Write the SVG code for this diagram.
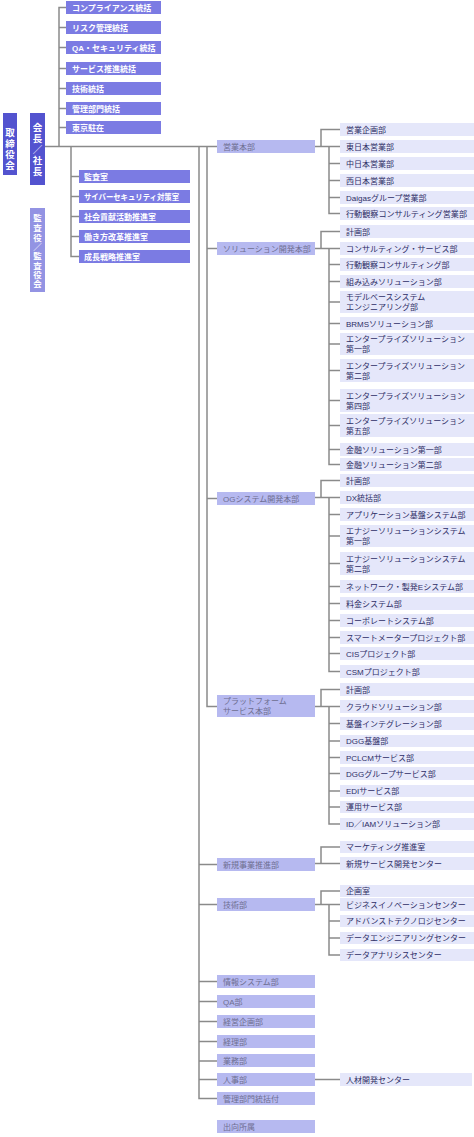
<svg xmlns="http://www.w3.org/2000/svg" width="474" height="1137" viewBox="0 0 474 1137">
<style>
text{font-family:"Liberation Sans","Noto Sans CJK JP",sans-serif;font-size:8px}
.dk{fill:#5353cf}
.au{fill:#9393e3}
.tp{fill:#7b7be3}
.tt{fill:#fff;font-weight:bold}
.vt{fill:#fff;font-weight:bold;font-size:9.5px;text-anchor:middle}
.mn{fill:#b6b9f0}
.mt{fill:#6e6e90}
.sb{fill:#e5e7fa}
.st{fill:#2e2e66}
.ln{stroke:#8a8a8a;stroke-width:1.5;fill:none}
</style>
<rect width="474" height="1137" fill="#fff"/>
<g id="connectors">
<path class="ln" d="M44,146.5H217 M59,146.5V7.5H66 M59,27.5H66 M59,47.5H66 M59,68.5H66 M59,88.5H66 M59,108.5H66 M59,127.5H66"/>
<path class="ln" d="M71,146.5V256.5H79 M71,176.5H79 M71,196.5H79 M71,216.5H79 M71,236.5H79"/>
<path class="ln" d="M207,146.5V706.5H217 M207,248.5H217 M207,498.5H217"/>
<path class="ln" d="M199,146.5V1098.5H217 M199,864.5H217 M199,904.5H217 M199,981.5H217 M199,1001.5H217 M199,1021.5H217 M199,1041.5H217 M199,1061H217 M199,1079.5H217"/>
<path class="ln" d="M315,146.5H340 M321,146.5V129.5H340 M329,146.5V213.5H340 M329,163.5H340 M329,180.5H340 M329,197.5H340"/>
<path class="ln" d="M315,248.5H340 M321,248.5V231.5H340 M329,248.5V464.5H340 M329,264.5H340 M329,281.5H340 M329,302H340 M329,323.5H340 M329,344H340 M329,370.5H340 M329,400.5H340 M329,425.5H340 M329,449.5H340"/>
<path class="ln" d="M315,497.5H340 M321,497.5V480.5H340 M329,497.5V671.5H340 M329,514.5H340 M329,536H340 M329,563.5H340 M329,586.5H340 M329,603.5H340 M329,620.5H340 M329,637.5H340 M329,653.5H340"/>
<path class="ln" d="M315,706.5H340 M321,706.5V689.5H340 M329,706.5V824H340 M329,723.5H340 M329,741H340 M329,757.5H340 M329,773.5H340 M329,791H340 M329,807H340"/>
<path class="ln" d="M315,863.5H340 M321,863.5V847H340"/>
<path class="ln" d="M315,904.5H340 M321,904.5V891H340 M329,904.5V955H340 M329,921H340 M329,938H340"/>
<path class="ln" d="M315,1079.5H340"/>
</g>
<g id="board"><rect class="dk" x="3" y="113" width="14" height="62"/>
<text class="vt" x="10"><tspan x="10" y="136">取</tspan><tspan x="10" y="147">締</tspan><tspan x="10" y="158">役</tspan><tspan x="10" y="169">会</tspan></text></g>
<g id="president"><rect class="dk" x="30" y="113" width="15" height="72"/>
<text class="vt"><tspan x="37.5" y="131">会</tspan><tspan x="37.5" y="142">長</tspan><tspan x="37.5" y="153">／</tspan><tspan x="37.5" y="164">社</tspan><tspan x="37.5" y="175">長</tspan></text></g>
<g id="auditors"><rect class="au" x="30" y="208" width="15" height="84"/>
<text class="vt" style="font-size:8.5px"><tspan x="37.5" y="221">監</tspan><tspan x="37.5" y="231">査</tspan><tspan x="37.5" y="241">役</tspan><tspan x="37.5" y="250">／</tspan><tspan x="37.5" y="259">監</tspan><tspan x="37.5" y="269">査</tspan><tspan x="37.5" y="278">役</tspan><tspan x="37.5" y="287">会</tspan></text></g>
<g id="top1"><rect class="tp" x="66" y="1" width="95" height="13"/><text class="tt" x="72" y="10.5">コンプライアンス統括</text></g>
<g id="top2"><rect class="tp" x="66" y="21" width="95" height="13"/><text class="tt" x="72" y="30.5">リスク管理統括</text></g>
<g id="top3"><rect class="tp" x="66" y="41" width="95" height="13"/><text class="tt" x="72" y="50.5">QA・セキュリティ統括</text></g>
<g id="top4"><rect class="tp" x="66" y="62" width="95" height="13"/><text class="tt" x="72" y="71.5">サービス推進統括</text></g>
<g id="top5"><rect class="tp" x="66" y="82" width="95" height="13"/><text class="tt" x="72" y="91.5">技術統括</text></g>
<g id="top6"><rect class="tp" x="66" y="102" width="95" height="13"/><text class="tt" x="72" y="111.5">管理部門統括</text></g>
<g id="top7"><rect class="tp" x="66" y="121" width="95" height="13"/><text class="tt" x="72" y="130.5">東京駐在</text></g>
<g id="staff1"><rect class="tp" x="79" y="170" width="111" height="13"/><text class="tt" x="84" y="179.5">監査室</text></g>
<g id="staff2"><rect class="tp" x="79" y="190" width="111" height="13"/><text class="tt" x="84" y="199.5" textLength="95" lengthAdjust="spacingAndGlyphs">サイバーセキュリティ対策室</text></g>
<g id="staff3"><rect class="tp" x="79" y="210" width="111" height="13"/><text class="tt" x="84" y="219.5">社会貢献活動推進室</text></g>
<g id="staff4"><rect class="tp" x="79" y="230" width="111" height="13"/><text class="tt" x="84" y="239.5">働き方改革推進室</text></g>
<g id="staff5"><rect class="tp" x="79" y="250" width="111" height="13"/><text class="tt" x="84" y="259.5">成長戦略推進室</text></g>
<g id="m1"><rect class="mn" x="217" y="140" width="98" height="13"/><text class="mt" x="223" y="149.5">営業本部</text></g>
<g id="m2"><rect class="mn" x="217" y="242" width="98" height="13"/><text class="mt" x="223" y="251.5">ソリューション開発本部</text></g>
<g id="m3"><rect class="mn" x="217" y="492" width="98" height="13"/><text class="mt" x="223" y="501.5">OGシステム開発本部</text></g>
<g id="m4"><rect class="mn" x="217" y="695" width="98" height="22"/><text class="mt"><tspan x="223" y="704">プラットフォーム</tspan><tspan x="223" y="714">サービス本部</tspan></text></g>
<g id="m5"><rect class="mn" x="217" y="858" width="98" height="13"/><text class="mt" x="223" y="867.5">新規事業推進部</text></g>
<g id="m6"><rect class="mn" x="217" y="898" width="98" height="13"/><text class="mt" x="223" y="907.5">技術部</text></g>
<g id="m7"><rect class="mn" x="217" y="975" width="98" height="13"/><text class="mt" x="223" y="984.5">情報システム部</text></g>
<g id="m8"><rect class="mn" x="217" y="995" width="98" height="13"/><text class="mt" x="223" y="1004.5">QA部</text></g>
<g id="m9"><rect class="mn" x="217" y="1015" width="98" height="13"/><text class="mt" x="223" y="1024.5">経営企画部</text></g>
<g id="m10"><rect class="mn" x="217" y="1035" width="98" height="13"/><text class="mt" x="223" y="1044.5">経理部</text></g>
<g id="m11"><rect class="mn" x="217" y="1054" width="98" height="13"/><text class="mt" x="223" y="1063.5">業務部</text></g>
<g id="m12"><rect class="mn" x="217" y="1073" width="98" height="13"/><text class="mt" x="223" y="1082.5">人事部</text></g>
<g id="m13"><rect class="mn" x="217" y="1092" width="98" height="13"/><text class="mt" x="223" y="1101.5">管理部門統括付</text></g>
<g id="m14"><rect class="mn" x="217" y="1120" width="98" height="13"/><text class="mt" x="223" y="1129.5">出向所属</text></g>
<g id="s1"><rect class="sb" x="340" y="123" width="134" height="13"/><text class="st" x="346" y="132.5">営業企画部</text></g>
<g id="s2"><rect class="sb" x="340" y="140" width="134" height="13"/><text class="st" x="346" y="149.5">東日本営業部</text></g>
<g id="s3"><rect class="sb" x="340" y="157" width="134" height="13"/><text class="st" x="346" y="166.5">中日本営業部</text></g>
<g id="s4"><rect class="sb" x="340" y="174" width="134" height="13"/><text class="st" x="346" y="183.5">西日本営業部</text></g>
<g id="s5"><rect class="sb" x="340" y="191" width="134" height="13"/><text class="st" x="346" y="200.5">Daigasグループ営業部</text></g>
<g id="s6"><rect class="sb" x="340" y="207" width="134" height="13"/><text class="st" x="346" y="216.5" textLength="121" lengthAdjust="spacingAndGlyphs">行動観察コンサルティング営業部</text></g>
<g id="s7"><rect class="sb" x="340" y="225" width="134" height="13"/><text class="st" x="346" y="234.5">計画部</text></g>
<g id="s8"><rect class="sb" x="340" y="242" width="134" height="13"/><text class="st" x="346" y="251.5">コンサルティング・サービス部</text></g>
<g id="s9"><rect class="sb" x="340" y="258" width="134" height="13"/><text class="st" x="346" y="267.5">行動観察コンサルティング部</text></g>
<g id="s10"><rect class="sb" x="340" y="275" width="134" height="13"/><text class="st" x="346" y="284.5">組み込みソリューション部</text></g>
<g id="s11"><rect class="sb" x="340" y="291" width="134" height="22"/><text class="st"><tspan x="346" y="300">モデルベースシステム</tspan><tspan x="346" y="310">エンジニアリング部</tspan></text></g>
<g id="s12"><rect class="sb" x="340" y="317" width="134" height="13"/><text class="st" x="346" y="326.5">BRMSソリューション部</text></g>
<g id="s13"><rect class="sb" x="340" y="333" width="134" height="22"/><text class="st"><tspan x="346" y="342">エンタープライズソリューション</tspan><tspan x="346" y="352">第一部</tspan></text></g>
<g id="s14"><rect class="sb" x="340" y="359" width="134" height="23"/><text class="st"><tspan x="346" y="368.5">エンタープライズソリューション</tspan><tspan x="346" y="378.5">第二部</tspan></text></g>
<g id="s15"><rect class="sb" x="340" y="389" width="134" height="23"/><text class="st"><tspan x="346" y="398.5">エンタープライズソリューション</tspan><tspan x="346" y="408.5">第四部</tspan></text></g>
<g id="s16"><rect class="sb" x="340" y="414" width="134" height="23"/><text class="st"><tspan x="346" y="423.5">エンタープライズソリューション</tspan><tspan x="346" y="433.5">第五部</tspan></text></g>
<g id="s17"><rect class="sb" x="340" y="443" width="134" height="13"/><text class="st" x="346" y="452.5">金融ソリューション第一部</text></g>
<g id="s18"><rect class="sb" x="340" y="458" width="134" height="13"/><text class="st" x="346" y="467.5">金融ソリューション第二部</text></g>
<g id="s19"><rect class="sb" x="340" y="474" width="134" height="13"/><text class="st" x="346" y="483.5">計画部</text></g>
<g id="s20"><rect class="sb" x="340" y="491" width="134" height="13"/><text class="st" x="346" y="500.5">DX統括部</text></g>
<g id="s21"><rect class="sb" x="340" y="508" width="134" height="13"/><text class="st" x="346" y="517.5">アプリケーション基盤システム部</text></g>
<g id="s22"><rect class="sb" x="340" y="525" width="134" height="22"/><text class="st"><tspan x="346" y="534">エナジーソリューションシステム</tspan><tspan x="346" y="544">第一部</tspan></text></g>
<g id="s23"><rect class="sb" x="340" y="552" width="134" height="23"/><text class="st"><tspan x="346" y="561.5">エナジーソリューションシステム</tspan><tspan x="346" y="571.5">第二部</tspan></text></g>
<g id="s24"><rect class="sb" x="340" y="580" width="134" height="13"/><text class="st" x="346" y="589.5">ネットワーク・製発Eシステム部</text></g>
<g id="s25"><rect class="sb" x="340" y="597" width="134" height="13"/><text class="st" x="346" y="606.5">料金システム部</text></g>
<g id="s26"><rect class="sb" x="340" y="614" width="134" height="13"/><text class="st" x="346" y="623.5">コーポレートシステム部</text></g>
<g id="s27"><rect class="sb" x="340" y="631" width="134" height="13"/><text class="st" x="346" y="640.5">スマートメータープロジェクト部</text></g>
<g id="s28"><rect class="sb" x="340" y="647" width="134" height="13"/><text class="st" x="346" y="656.5">CISプロジェクト部</text></g>
<g id="s29"><rect class="sb" x="340" y="665" width="134" height="13"/><text class="st" x="346" y="674.5">CSMプロジェクト部</text></g>
<g id="s30"><rect class="sb" x="340" y="683" width="134" height="13"/><text class="st" x="346" y="692.5">計画部</text></g>
<g id="s31"><rect class="sb" x="340" y="700" width="134" height="13"/><text class="st" x="346" y="709.5">クラウドソリューション部</text></g>
<g id="s32"><rect class="sb" x="340" y="717" width="134" height="13"/><text class="st" x="346" y="726.5">基盤インテグレーション部</text></g>
<g id="s33"><rect class="sb" x="340" y="735" width="134" height="12"/><text class="st" x="346" y="744">DGG基盤部</text></g>
<g id="s34"><rect class="sb" x="340" y="751" width="134" height="13"/><text class="st" x="346" y="760.5">PCLCMサービス部</text></g>
<g id="s35"><rect class="sb" x="340" y="767" width="134" height="13"/><text class="st" x="346" y="776.5">DGGグループサービス部</text></g>
<g id="s36"><rect class="sb" x="340" y="785" width="134" height="12"/><text class="st" x="346" y="794">EDIサービス部</text></g>
<g id="s37"><rect class="sb" x="340" y="801" width="134" height="12"/><text class="st" x="346" y="810">運用サービス部</text></g>
<g id="s38"><rect class="sb" x="340" y="818" width="134" height="12"/><text class="st" x="346" y="827">ID／IAMソリューション部</text></g>
<g id="s39"><rect class="sb" x="340" y="841" width="134" height="12"/><text class="st" x="346" y="850">マーケティング推進室</text></g>
<g id="s40"><rect class="sb" x="340" y="857" width="134" height="13"/><text class="st" x="346" y="866.5">新規サービス開発センター</text></g>
<g id="s41"><rect class="sb" x="340" y="885" width="134" height="12"/><text class="st" x="346" y="894">企画室</text></g>
<g id="s42"><rect class="sb" x="340" y="898" width="134" height="13"/><text class="st" x="346" y="907.5">ビジネスイノベーションセンター</text></g>
<g id="s43"><rect class="sb" x="340" y="915" width="134" height="12"/><text class="st" x="346" y="924">アドバンストテクノロジセンター</text></g>
<g id="s44"><rect class="sb" x="340" y="932" width="134" height="12"/><text class="st" x="346" y="941">データエンジニアリングセンター</text></g>
<g id="s45"><rect class="sb" x="340" y="949" width="134" height="12"/><text class="st" x="346" y="958">データアナリシスセンター</text></g>
<g id="s46"><rect class="sb" x="340" y="1073" width="132" height="13"/><text class="st" x="346" y="1082.5">人材開発センター</text></g>
</svg>
